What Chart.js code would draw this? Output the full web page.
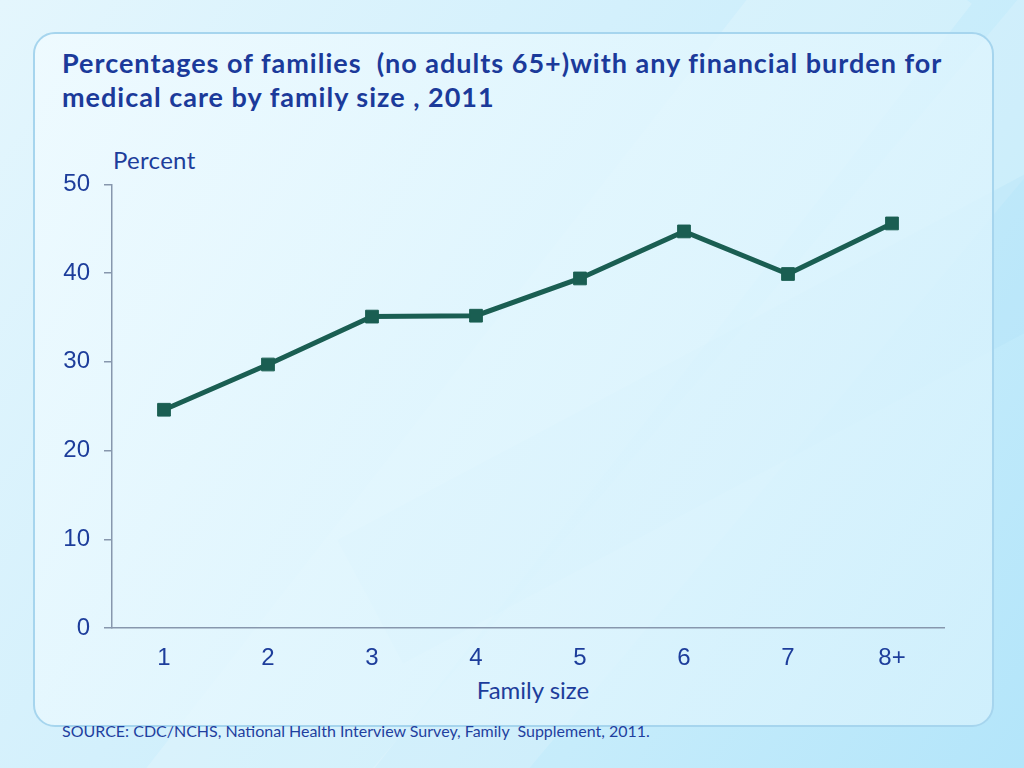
<!DOCTYPE html>
<html>
<head>
<meta charset="utf-8">
<script src="https://cdn.jsdelivr.net/npm/chart.js@4/dist/chart.umd.min.js"></script>
<style>
  html, body { margin:0; padding:0; }
  body { width:1024px; height:768px; position:relative; overflow:hidden;
    background: linear-gradient(125deg, #e4f6fd 0%, #d3f0fc 40%, #c6ecfb 70%, #b3e5fa 100%); }
  .streak { position:absolute; pointer-events:none; }
  #panel { position:absolute; left:33px; top:32px; width:957px; height:691px;
    border:2px solid #a6d5ee; border-radius:22px;
    background: linear-gradient(120deg, rgba(240,251,255,0.85) 0%, rgba(228,247,254,0.8) 45%, rgba(215,242,253,0.75) 100%); }
  .txt { position:absolute; color:#1d3d9b; white-space:nowrap; }
  #title { left:62px; top:46px; font-family:Lato, "Open Sans", sans-serif; font-weight:700; font-size:27px; letter-spacing:1px; line-height:34px; color:#1b3a9a; }
  #ylab { left:113px; top:145px; font-family:Lato, sans-serif; font-size:24px; letter-spacing:0.3px; }
  #xlab { left:533px; top:675px; transform:translateX(-50%); font-family:Lato, sans-serif; font-size:24px; }
  #source { left:62px; top:721px; font-family:Lato, sans-serif; font-size:16px; color:#1f3f9f; }
  #wrap { position:absolute; left:40px; top:156px; width:920px; height:534px; }
</style>
</head>
<body>
<div class="streak" style="left:380px;top:-200px;width:180px;height:1400px;background:rgba(255,255,255,0.18);transform:rotate(38deg);"></div>
<div class="streak" style="left:700px;top:-300px;width:120px;height:1400px;background:rgba(255,255,255,0.15);transform:rotate(40deg);"></div>
<div class="streak" style="left:300px;top:250px;width:1200px;height:140px;background:rgba(170,225,248,0.25);transform:rotate(-28deg);"></div>
<div id="panel"></div>
<div id="title" class="txt">Percentages of families&nbsp; (no adults 65+)with any financial burden for<br>medical care by family size , 2011</div>
<div id="ylab" class="txt">Percent</div>
<div id="xlab" class="txt">Family size</div>
<div id="source" class="txt">SOURCE: CDC/NCHS, National Health Interview Survey, Family&nbsp; Supplement, 2011.</div>
<div id="wrap"><canvas id="c" width="920" height="534"></canvas></div>
<script>
const familySizes = ["1", "2", "3", "4", "5", "6", "7", "8+"];
const percentWithBurden = [24.6, 29.7, 35.1, 35.2, 39.4, 44.7, 39.9, 45.6];
const yTicks = [0, 10, 20, 30, 40, 50];

const blue = '#1d3d9b';
const axisGrey = '#8797ad';
const tickFont = { family: "'Liberation Sans', Arial, sans-serif", size: 24 };

new Chart(document.getElementById('c'), {
  type: 'line',
  data: {
    labels: familySizes,
    datasets: [{
      data: percentWithBurden,
      borderColor: '#1a5e52',
      backgroundColor: '#1a5e52',
      borderWidth: 5,
      pointStyle: 'rect',
      pointRadius: 9,
      pointBorderWidth: 1,
      pointHoverRadius: 9,
      tension: 0,
      fill: false
    }]
  },
  options: {
    responsive: false,
    animation: false,
    events: [],
    layout: { padding: { top: 0, right: 16, left: 0, bottom: 0 } },
    plugins: { legend: { display: false }, tooltip: { enabled: false } },
    scales: {
      x: {
        offset: true,
        grid: { display: true, drawOnChartArea: false, drawTicks: false },
        border: { color: axisGrey, width: 1.5 },
        ticks: { color: blue, font: tickFont, padding: 16, maxRotation: 0 },
        afterFit(s) { s.height = 62; }
      },
      y: {
        min: 0, max: 50,
        afterBuildTicks(s) { s.ticks = yTicks.map(v => ({ value: v })); },
        grid: { drawOnChartArea: false, drawTicks: true, tickLength: 8, color: axisGrey, lineWidth: 1.5 },
        border: { color: axisGrey, width: 1.5 },
        ticks: { color: blue, font: tickFont, padding: 14 },
        afterFit(s) { s.width = 72; }
      }
    }
  }
});
</script>
</body>
</html>
